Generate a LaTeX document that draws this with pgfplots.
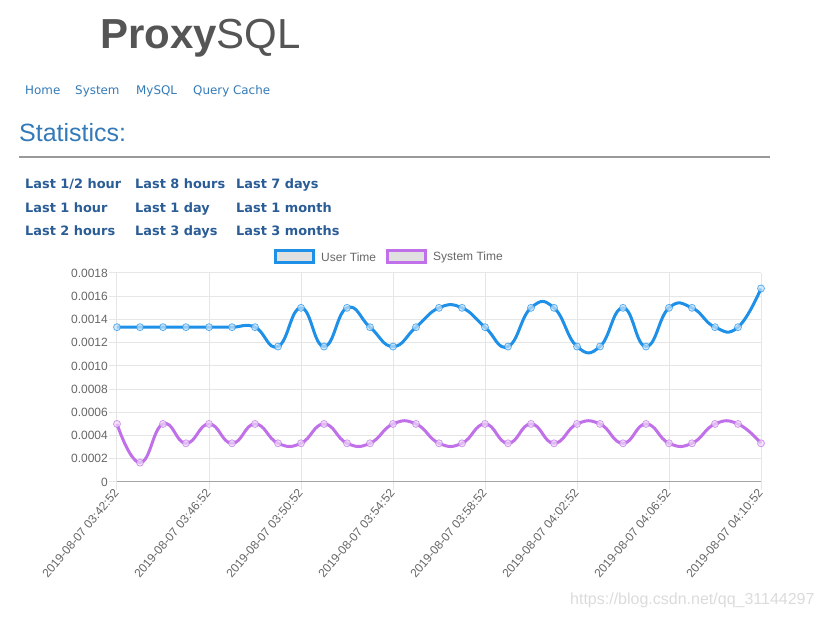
\documentclass[border=0pt]{standalone}
\usepackage{fontspec}
\setmainfont{Liberation Sans}
\newfontfamily\verd{DejaVu Sans}
\usepackage{pgfplots}
\pgfplotsset{compat=1.18}
\definecolor{ublue}{RGB}{30,144,232}
\definecolor{spurp}{RGB}{192,112,232}
\definecolor{navc}{RGB}{51,122,183}
\definecolor{linkc}{RGB}{42,92,150}
\definecolor{txtg}{RGB}{102,102,102}
\definecolor{gridc}{RGB}{230,230,230}
\definecolor{logo}{RGB}{85,85,85}
\begin{document}
\begin{tikzpicture}[x=1pt,y=1pt]
\useasboundingbox (0,0) rectangle (822,618);
% header
\node[anchor=base west,inner sep=0pt,text=logo] at (100,569) {\fontsize{42}{46}\selectfont\textbf{Proxy}SQL};
\begin{scope}[every node/.style={anchor=base west,inner sep=0pt,text=navc}]
\node at (25,523) {\verd\fontsize{11.9}{14}\selectfont Home};
\node at (75,523) {\verd\fontsize{11.9}{14}\selectfont System};
\node at (136,523) {\verd\fontsize{11.9}{14}\selectfont MySQL};
\node at (193,523) {\verd\fontsize{11.9}{14}\selectfont Query Cache};
\node at (19,476.3) {\fontsize{25}{29}\selectfont Statistics:};
\end{scope}
\draw[color=black!40,line width=1.3pt] (19,461) -- (770,461);
\begin{scope}[every node/.style={anchor=base west,inner sep=0pt,text=linkc,font=\verd\bfseries\fontsize{12.9}{15}\selectfont}]
\node at (25,429.3) {Last 1/2 hour};
\node at (25,405.7) {Last 1 hour};
\node at (25,382) {Last 2 hours};
\node at (135,429.3) {Last 8 hours};
\node at (135,405.7) {Last 1 day};
\node at (135,382) {Last 3 days};
\node at (236,429.3) {Last 7 days};
\node at (236,405.7) {Last 1 month};
\node at (236,382) {Last 3 months};
\end{scope}
% legend
\draw[ublue,line width=3pt,fill=black!12] (275.5,355.5) rectangle (313.5,367.5);
\node[anchor=west,inner sep=0pt,text=txtg,font=\fontsize{12}{14}\selectfont] at (321,361) {User Time};
\draw[spurp,line width=3pt,fill=black!12] (387.5,355.5) rectangle (425.5,367.5);
\node[anchor=west,inner sep=0pt,text=txtg,font=\fontsize{12}{14}\selectfont] at (433,361) {System Time};
% watermark
\node[anchor=base west,inner sep=0pt,text=black!14,font=\fontsize{16}{18}\selectfont] at (570,13) {https://blog.csdn.net/qq\_31144297};
\begin{axis}[
  at={(117pt,136pt)}, anchor=south west,
  scale only axis, width=644pt, height=209pt,
  xmin=0, xmax=28, ymin=0, ymax=0.0018,
  axis lines=left,
  axis line style={-},
  x axis line style={black!35,line width=1pt},
  y axis line style={gridc,line width=1pt},
  grid=major,
  grid style={gridc,line width=1pt},
  tick style={gridc,line width=1pt},
  tick align=outside,
  major tick length=8pt,
  xtick={0,4,8,12,16,20,24,28},
  xticklabels={2019-08-07 03:42:52,2019-08-07 03:46:52,2019-08-07 03:50:52,2019-08-07 03:54:52,2019-08-07 03:58:52,2019-08-07 04:02:52,2019-08-07 04:06:52,2019-08-07 04:10:52},
  xticklabel style={rotate=50,anchor=east,inner sep=1pt,text=txtg,font=\fontsize{12}{14}\selectfont},
  ytick={0,0.0002,0.0004,0.0006,0.0008,0.001,0.0012,0.0014,0.0016,0.0018},
  yticklabels={0,0.0002,0.0004,0.0006,0.0008,0.0010,0.0012,0.0014,0.0016,0.0018},
  yticklabel style={anchor=east,inner sep=1pt,text=txtg,font=\fontsize{12}{14}\selectfont},
  scaled y ticks=false,
  clip=false,
]
\addplot[ublue,line width=3pt,smooth,tension=0.8,mark=*,mark size=3.5pt,
  mark options={solid,line width=0.8pt,draw=ublue,fill=ublue!25,opacity=0.7}] coordinates {
(0,0.0013333)(1,0.0013333)(2,0.0013333)(3,0.0013333)(4,0.0013333)(5,0.0013333)(6,0.0013333)
(7,0.0011667)(8,0.0015)(9,0.0011667)(10,0.0015)(11,0.0013333)(12,0.0011667)(13,0.0013333)
(14,0.0015)(15,0.0015)(16,0.0013333)(17,0.0011667)(18,0.0015)(19,0.0015)(20,0.0011667)
(21,0.0011667)(22,0.0015)(23,0.0011667)(24,0.0015)(25,0.0015)(26,0.0013333)(27,0.0013333)(28,0.0016667)
};
\addplot[spurp,line width=3pt,smooth,tension=0.8,mark=*,mark size=3.5pt,
  mark options={solid,line width=0.8pt,draw=spurp,fill=spurp!25,opacity=0.7}] coordinates {
(0,0.0005)(1,0.00016667)(2,0.0005)(3,0.00033333)(4,0.0005)(5,0.00033333)(6,0.0005)
(7,0.00033333)(8,0.00033333)(9,0.0005)(10,0.00033333)(11,0.00033333)(12,0.0005)(13,0.0005)
(14,0.00033333)(15,0.00033333)(16,0.0005)(17,0.00033333)(18,0.0005)(19,0.00033333)(20,0.0005)
(21,0.0005)(22,0.00033333)(23,0.0005)(24,0.00033333)(25,0.00033333)(26,0.0005)(27,0.0005)(28,0.00033333)
};
\end{axis}
\end{tikzpicture}
\end{document}
